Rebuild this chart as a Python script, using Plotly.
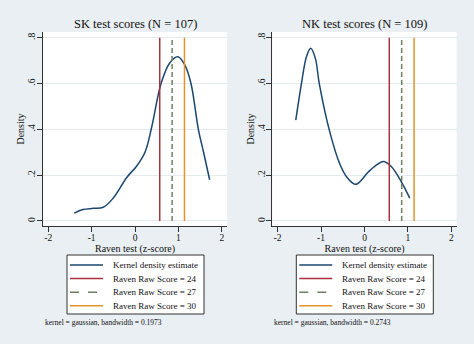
import plotly.graph_objects as go

# ---------------- data ----------------
sk_x = [-1.40, -1.20, -0.96, -0.73, -0.50, -0.19, 0.04, 0.23, 0.385, 0.60, 0.80, 0.99, 1.15, 1.29, 1.46, 1.58, 1.72]
sk_y = [0.034, 0.050, 0.055, 0.060, 0.100, 0.190, 0.240, 0.300, 0.410, 0.600, 0.690, 0.717, 0.680, 0.600, 0.400, 0.300, 0.180]

nk_x = [-1.58, -1.45, -1.33, -1.235, -1.13, -1.04, -0.80, -0.57, -0.40, -0.20, 0.12, 0.43, 0.62, 0.85, 1.04]
nk_y = [0.44, 0.60, 0.72, 0.754, 0.71, 0.60, 0.39, 0.25, 0.19, 0.16, 0.22, 0.26, 0.237, 0.17, 0.10]

raw_score_z = [0.57, 0.855, 1.14]          # z-score positions of raw scores 24, 27, 30
raw_score_labels = ["Raven Raw Score = 24", "Raven Raw Score = 27", "Raven Raw Score = 30"]
kde_label = "Kernel density estimate"

panel_titles = ["SK test scores (N = 107)", "NK test scores (N = 109)"]
notes = ["kernel = gaussian, bandwidth = 0.1973", "kernel = gaussian, bandwidth = 0.2743"]

x_ticks = [-2, -1, 0, 1, 2]
x_tick_text = ["-2", "-1", "0", "1", "2"]
y_ticks = [0, 0.2, 0.4, 0.6, 0.8]
y_tick_text = ["0", ".2", ".4", ".6", ".8"]
y_line_range = [0, 0.8]

# ---------------- style ----------------
W, H = 474, 344
BG = "#e9eff2"
FONT = "Liberation Serif"
kde_color = "#1a476f"
line_colors = ["#a8323e", "#6f8060", "#e5922a"]
line_dashes = ["solid", "5px,3px", "solid"]

panels = [
    dict(x=sk_x, y=sk_y, left=43, right=227),
    dict(x=nk_x, y=nk_y, left=272.3, right=456.7),
]
plot_top, plot_bottom = 32, 226

fig = go.Figure()
layout = dict(
    width=W, height=H,
    margin=dict(l=0, r=0, t=0, b=0),
    paper_bgcolor=BG, plot_bgcolor="white",
    showlegend=False,
    font=dict(family=FONT, color="#111"),
    shapes=[], annotations=[],
)

for i, p in enumerate(panels):
    sfx = "" if i == 0 else str(i + 1)
    xa, ya = "x" + sfx, "y" + sfx
    fig.add_trace(go.Scatter(x=p["x"], y=p["y"], mode="lines", name=kde_label,
                             line=dict(color=kde_color, width=1.5, shape="spline", smoothing=1.0),
                             xaxis=xa, yaxis=ya))
    for z, lab, c, d in zip(raw_score_z, raw_score_labels, line_colors, line_dashes):
        fig.add_trace(go.Scatter(x=[z, z], y=y_line_range, mode="lines", name=lab,
                                 line=dict(color=c, width=1.5, dash=d),
                                 xaxis=xa, yaxis=ya))
    axis_common = dict(showline=True, linecolor="#333", linewidth=1, ticks="outside",
                       ticklen=5, tickcolor="#333", tickfont=dict(size=9.5, family=FONT, color="#111"),
                       zeroline=False)
    layout["xaxis" + sfx] = dict(
        domain=[p["left"] / W, p["right"] / W], anchor=ya, range=[-2.12, 2.12],
        tickvals=x_ticks, ticktext=x_tick_text, showgrid=False, ticklabelstandoff=-2,
        title=dict(text="Raven test (z-score)", font=dict(size=10, family=FONT), standoff=0),
        **axis_common)
    layout["yaxis" + sfx] = dict(
        domain=[1 - plot_bottom / H, 1 - plot_top / H], anchor=xa, range=[-0.022, 0.825],
        tickvals=y_ticks, ticktext=y_tick_text, tickangle=-90, showgrid=True, gridcolor="#e4ebee",
        ticklabelstandoff=-2,
        title=dict(text="Density", font=dict(size=10, family=FONT), standoff=0),
        **axis_common)

    cx = (p["left"] + p["right"]) / 2
    layout["annotations"].append(dict(text=panel_titles[i], x=cx / W, y=1 - 24 / H, xref="paper", yref="paper",
                                      xanchor="center", yanchor="middle", showarrow=False,
                                      font=dict(size=12.5, family=FONT, color="#111")))
    # legend (Stata style, compact rows)
    bl = p["left"] + 24
    layout["shapes"].append(dict(type="rect", xref="paper", yref="paper",
                                 x0=bl / W, x1=(bl + 137) / W, y0=1 - 314 / H, y1=1 - 255 / H,
                                 line=dict(color="#333", width=1), fillcolor="white"))
    names = [kde_label] + raw_score_labels
    cols = [kde_color] + line_colors
    dashes = ["solid"] + line_dashes
    for k, (nm, c, d) in enumerate(zip(names, cols, dashes)):
        yy = 265 + k * 13.6
        layout["shapes"].append(dict(type="line", xref="paper", yref="paper",
                                     x0=(bl + 3) / W, x1=(bl + 36) / W, y0=1 - yy / H, y1=1 - yy / H,
                                     line=dict(color=c, width=1.5, dash="dash" if d != "solid" else "solid")))
        layout["annotations"].append(dict(text=nm, x=(bl + 44) / W, y=1 - yy / H, xref="paper", yref="paper",
                                          xanchor="left", yanchor="middle", showarrow=False,
                                          font=dict(size=9, family=FONT, color="#111")))
    layout["annotations"].append(dict(text=notes[i], x=p["left"] / W, y=1 - 322 / H, xref="paper", yref="paper",
                                      xanchor="left", yanchor="middle", showarrow=False,
                                      font=dict(size=7.5, family=FONT, color="#111")))

fig.update_layout(**layout)
fig.write_html("out.html")
